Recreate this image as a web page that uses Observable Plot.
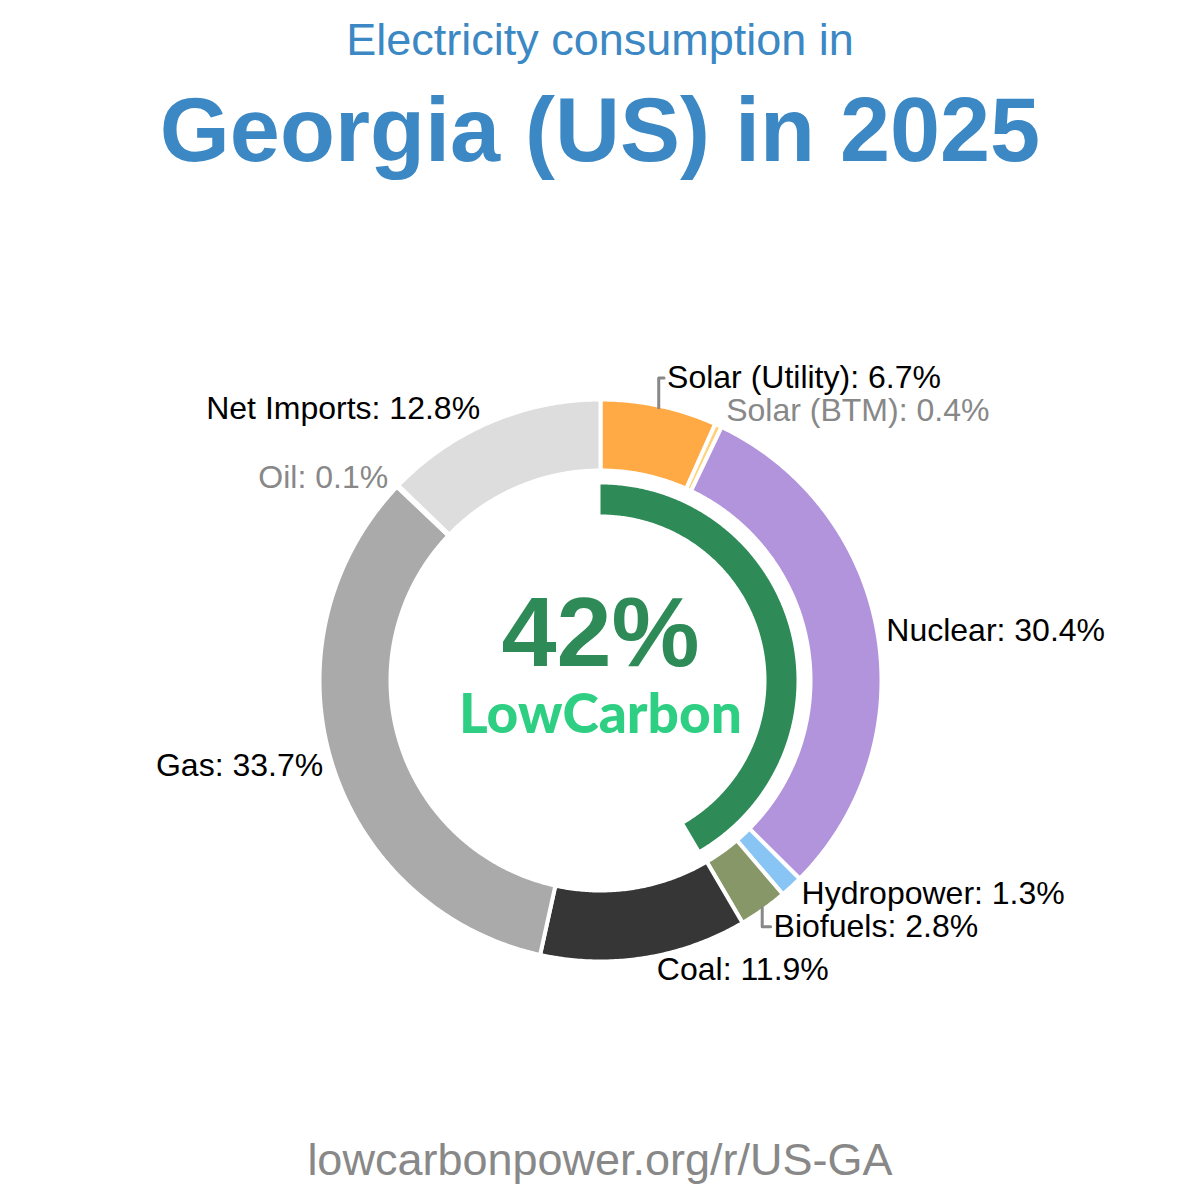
<!DOCTYPE html>
<html>
<head>
<meta charset="utf-8">
<script src="https://cdn.jsdelivr.net/npm/d3@7"></script>
<script src="https://cdn.jsdelivr.net/npm/@observablehq/plot@0.6"></script>
<style>
  html, body { margin: 0; padding: 0; background: #ffffff; }
  #wrap { position: relative; width: 1200px; height: 1200px; overflow: hidden; font-family: "Liberation Sans", Arial, sans-serif; }
  .t1 { position: absolute; left: 0; width: 1200px; top: 10px; height: 60px; line-height: 60px; text-align: center; font-size: 45px; color: #3b88c4; }
  .t2 { position: absolute; left: 0; width: 1200px; top: 75px; height: 110px; line-height: 110px; text-align: center; font-size: 90px; font-weight: bold; color: #3b88c4; }
  #chart { position: absolute; left: 0; top: 200px; width: 1200px; height: 880px; }
  .foot { position: absolute; left: 0; width: 1200px; top: 1130px; height: 60px; line-height: 60px; text-align: center; font-size: 45px; color: #888888; }
</style>
</head>
<body>
<div id="wrap">
  <div class="t1" id="t1"></div>
  <div class="t2" id="t2"></div>
  <div id="chart"></div>
  <div class="foot" id="foot"></div>
</div>
<script>
// ---- data ----
const titleLine1 = "Electricity consumption in";
const titleLine2 = "Georgia (US) in 2025";
const footerText = "lowcarbonpower.org/r/US-GA";
const centerBrand = "LowCarbon";

const sources = ["Solar (Utility)", "Solar (BTM)", "Nuclear", "Hydropower", "Biofuels", "Coal", "Gas", "Oil", "Net Imports"];
const shares  = [6.7, 0.4, 30.4, 1.3, 2.8, 11.9, 33.7, 0.1, 12.8];
const lowCarbonFlags = [true, true, true, true, true, false, false, false, false];
const sliceColors = ["#ffaa44", "#ffd27a", "#b294dc", "#88c4f4", "#889768", "#363636", "#aaaaaa", "#555555", "#dddddd"];

// ---- layout (pixels, in chart units) ----
const R_OUT = 281, R_IN = 210, G_OUT = 196, G_IN = 166, R_EDGE = 279, LABEL_R = 290;
const labelNudge = { // [dx, dy] on screen
  "Solar (Utility)": [6, -19],
  "Solar (BTM)": [4, -7],
  "Nuclear": [0, 0],
  "Hydropower": [4, 0],
  "Biofuels": [5, 10],
  "Coal": [11, 3],
  "Gas": [0, 0],
  "Oil": [-3, -2],
  "Net Imports": [-7, -5]
};
const withLeader = new Set(["Solar (Utility)", "Biofuels"]);

document.getElementById("t1").textContent = titleLine1;
document.getElementById("t2").textContent = titleLine2;
document.getElementById("foot").textContent = footerText;

const pie = d3.pie().sort(null).value(d => d)(shares);

function ring(key, a0, a1, r0, r1) {
  const n = Math.max(2, Math.ceil((a1 - a0) / (Math.PI / 360)));
  const pts = [];
  for (let i = 0; i <= n; i++) { const a = a0 + (a1 - a0) * i / n; pts.push({key, x: r1 * Math.sin(a), y: r1 * Math.cos(a)}); }
  for (let i = n; i >= 0; i--) { const a = a0 + (a1 - a0) * i / n; pts.push({key, x: r0 * Math.sin(a), y: r0 * Math.cos(a)}); }
  return pts;
}

const slicePts = [];
const labels = [];
const leaderPts = [];
pie.forEach((p, i) => {
  const name = sources[i];
  slicePts.push(...ring(name, p.startAngle, p.endAngle, R_IN, R_OUT));
  const mid = (p.startAngle + p.endAngle) / 2;
  const [ndx, ndy] = labelNudge[name];
  const lx = LABEL_R * Math.sin(mid) + ndx;
  const ly = LABEL_R * Math.cos(mid) - ndy;
  labels.push({
    name, x: lx, y: ly,
    text: `${name}: ${shares[i].toFixed(1)}%`,
    right: Math.sin(mid) >= 0,
    minor: shares[i] < 1
  });
  if (withLeader.has(name)) {
    const sx = R_EDGE * Math.sin(mid), sy = R_EDGE * Math.cos(mid);
    leaderPts.push({key: name, x: sx, y: sy});
    leaderPts.push({key: name, x: sx, y: ly});
    leaderPts.push({key: name, x: lx - 3, y: ly});
  }
});

const lowTotal = d3.sum(shares.filter((s, i) => lowCarbonFlags[i]));
const total = d3.sum(shares);
const greenEnd = 2 * Math.PI * lowTotal / total;
const greenPts = ring("Low carbon", 0, greenEnd, G_IN, G_OUT);
const pctText = `${Math.round(lowTotal)}%`;

const font = '"Liberation Sans", Arial, sans-serif';
const labelMark = (right, minor) => Plot.text(labels.filter(d => d.right === right && d.minor === minor), {
  x: "x", y: "y", text: "text",
  textAnchor: right ? "start" : "end",
  lineAnchor: "middle",
  fill: minor ? "#888888" : "#000000",
  fontSize: 32,
  fontFamily: font
});

const chart = Plot.plot({
  width: 1200,
  height: 880,
  margin: 0,
  style: { background: "transparent", fontFamily: font, overflow: "visible" },
  x: { domain: [-600, 600], axis: null },
  y: { domain: [-400, 480], axis: null },
  color: { domain: sources, range: sliceColors },
  marks: [
    Plot.line(slicePts, { x: "x", y: "y", z: "key", fill: "key", stroke: "white", strokeWidth: 4, curve: "linear-closed" }),
    Plot.line(greenPts, { x: "x", y: "y", z: "key", fill: "#2e8b57", stroke: "none", curve: "linear-closed" }),
    Plot.line(leaderPts, { x: "x", y: "y", z: "key", stroke: "#888888", strokeWidth: 3 }),
    labelMark(true, false), labelMark(true, true), labelMark(false, false), labelMark(false, true),
    Plot.text([pctText], { x: () => 0, y: () => 0, text: d => d, dy: -46, fontSize: 99, fontWeight: "bold", fill: "#2e8b57", fontFamily: font, lineAnchor: "middle" }),
    Plot.text([centerBrand], { x: () => 0, y: () => 0, text: d => d, dy: 35, fontSize: 55, fontWeight: 900, fill: "#2ecf82", fontFamily: 'Lato, "Noto Sans", sans-serif', lineAnchor: "middle" })
  ]
});
document.getElementById("chart").appendChild(chart);
</script>
</body>
</html>
